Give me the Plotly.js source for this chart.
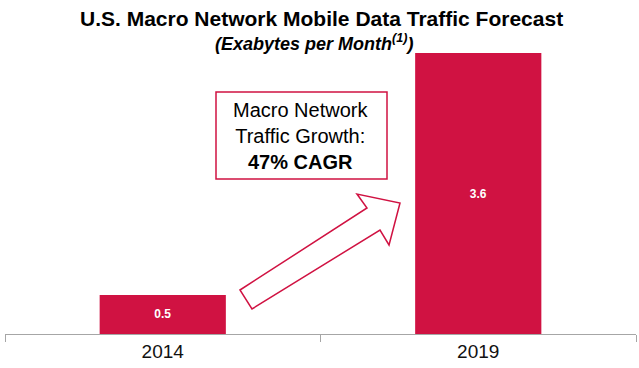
<!DOCTYPE html>
<html><head><meta charset="utf-8">
<script src="https://cdn.plot.ly/plotly-3.0.1.min.js"></script>
<style>html,body{margin:0;padding:0;background:#fff}#c{width:639px;height:368px}</style>
</head><body><div id="c"></div>
<script>
const years = ["2014", "2019"];
const traffic = [0.5, 3.6];
const trafficLabels = ["0.5", "3.6"];
const red = "#D01242";

// plot area in pixels (for converting decoration coords to paper)
const L = 5, R = 636, T = 53, B = 334;
const px = x => (x - L) / (R - L);
const py = y => (B - y) / (B - T);
const arrowPts = [[240,290],[367,208],[357,194],[400,203],[389,245],[380,230],[252,309]];
const arrowPath = arrowPts.map((p,i)=>(i?'L':'M')+px(p[0]).toFixed(4)+','+py(p[1]).toFixed(4)).join(' ')+' Z';

const data = [{
  type: 'bar', x: years, y: traffic, text: trafficLabels,
  textposition: 'inside', insidetextanchor: 'middle', textangle: 0,
  textfont: {family: 'Liberation Sans, Arial, sans-serif', size: 12, color: '#fff'},
  texttemplate: '<b>%{text}</b>',
  marker: {color: red}, width: 0.4, hoverinfo: 'none'
}];

const layout = {
  width: 639, height: 368,
  margin: {l: L, r: 639 - R, t: T, b: 368 - B, pad: 0},
  paper_bgcolor: '#fff', plot_bgcolor: '#fff',
  showlegend: false,
  font: {family: 'Liberation Sans, Arial, sans-serif', color: '#000'},
  xaxis: {
    type: 'category', tickson: 'boundaries', ticks: 'outside', ticklen: 7, tickcolor: '#a6a6a6',
    showline: true, linecolor: '#a6a6a6', linewidth: 1, showgrid: false,
    tickfont: {size: 19, color: '#111'}
  },
  yaxis: {range: [0, 3.6], visible: false, showgrid: false, zeroline: false},
  annotations: [
    {xref: 'paper', yref: 'paper', x: px(321), y: py(18), text: '<b>U.S. Macro Network Mobile Data Traffic Forecast</b>',
     showarrow: false, xanchor: 'center', yanchor: 'middle', font: {size: 21, color: '#000'}},
    {xref: 'paper', yref: 'paper', x: px(314), y: py(43), text: '<b><i>(Exabytes per Month<sup>(1)</sup>)</i></b>',
     showarrow: false, xanchor: 'center', yanchor: 'middle', font: {size: 18, color: '#000'}},
    {xref: 'paper', yref: 'paper', x: px(300), y: py(136), text: 'Macro Network<br>Traffic Growth:<br><b>47% CAGR</b>',
     showarrow: false, xanchor: 'center', yanchor: 'middle', align: 'center', font: {size: 20, color: '#000'}}
  ],
  shapes: [
    {type: 'rect', xref: 'paper', yref: 'paper', x0: px(216), x1: px(387), y0: py(179), y1: py(92),
     line: {color: red, width: 1.5}, fillcolor: 'rgba(0,0,0,0)'},
    {type: 'path', xref: 'paper', yref: 'paper', path: arrowPath, line: {color: red, width: 1.5}, fillcolor: '#fff'}
  ]
};
Plotly.newPlot('c', data, layout, {staticPlot: true, displayModeBar: false});
</script></body></html>
